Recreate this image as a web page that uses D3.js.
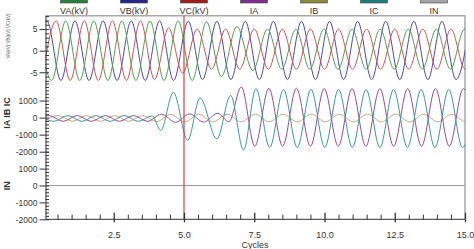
<!DOCTYPE html>
<html>
<head>
<meta charset="utf-8">
<script src="https://cdn.jsdelivr.net/npm/d3@7"></script>
<style>
  body { margin: 0; background: #fff; }
  svg { font-family: "Liberation Sans", Arial, sans-serif; display: block; }
  .axis path, .axis line { stroke: #333; }
  .axis text { fill: #333; }
</style>
</head>
<body>
<svg id="chart" width="474" height="249"></svg>
<script>
// legend
const legendNames = ["VA(kV)", "VB(kV)", "VC(kV)", "IA", "IB", "IC", "IN"];
const legendColors = ["#2b7f3c", "#25258c", "#a41d1d", "#7c2f8c", "#8a8a3c", "#1c7f7c", "#a3a3a3"];

// extrema of each trace (time in cycles, value)
const vaT = [-0.21, 0.29, 0.79, 1.29, 1.79, 2.29, 2.79, 3.29, 3.79, 4.29, 4.79, 5.29, 5.8, 6.33, 6.88, 7.45, 7.97, 8.48, 8.98, 9.48, 9.98, 10.48, 10.98, 11.48, 11.98, 12.48, 12.98, 13.48, 13.98, 14.48, 14.98, 15.48];
const vaV = [6.9, -6.9, 6.9, -6.9, 6.9, -6.9, 6.9, -6.9, 6.9, -6.9, 6.9, -6.9, 6.7, -6.0, 5.6, -4.6, 5.0, -4.3, 5.0, -4.3, 5.0, -4.3, 5.0, -4.3, 5.0, -4.3, 5.0, -4.3, 5.0, -4.3, 5.0, -4.3];

const vbT = [-0.38, 0.12, 0.62, 1.12, 1.62, 2.12, 2.62, 3.12, 3.62, 4.13, 4.63, 5.15, 5.66, 6.17, 6.67, 7.18, 7.68, 8.18, 8.68, 9.18, 9.68, 10.18, 10.68, 11.18, 11.68, 12.18, 12.68, 13.18, 13.68, 14.18, 14.68, 15.18];
const vbV = [-6.9, 6.9, -6.9, 6.9, -6.9, 6.9, -6.9, 6.9, -6.9, 6.9, -6.9, 6.8, -6.7, 6.8, -6.7, 6.8, -6.7, 6.8, -6.7, 6.8, -6.7, 6.8, -6.7, 6.8, -6.7, 6.8, -6.7, 6.8, -6.7, 6.8, -6.7, 6.8];

const vcT = [-0.05, 0.45, 0.95, 1.45, 1.95, 2.45, 2.95, 3.45, 3.95, 4.45, 4.95, 5.47, 5.98, 6.48, 6.98, 7.5, 8.0, 8.5, 9.0, 9.5, 10.0, 10.5, 11.0, 11.5, 12.0, 12.5, 13.0, 13.5, 14.0, 14.5, 15.0, 15.5];
const vcV = [-6.9, 6.9, -6.9, 6.9, -6.9, 6.9, -6.9, 6.9, -6.7, 5.3, -5.2, 5.0, -4.3, 5.0, -4.3, 5.0, -4.3, 5.0, -4.3, 5.0, -4.3, 5.0, -4.3, 5.0, -4.3, 5.0, -4.3, 5.0, -4.3, 5.0, -4.3, 5.0];

const iaT = [-0.3, 0.2, 0.7, 1.2, 1.7, 2.2, 2.7, 3.2, 3.7, 4.2, 4.7, 5.2, 5.7, 6.2, 6.6, 7.04, 7.52, 8.02, 8.51, 9.0, 9.5, 9.99, 10.49, 10.98, 11.47, 11.97, 12.46, 12.96, 13.45, 13.95, 14.44, 14.94, 15.43];
const iaV = [-220, 120, -220, 120, -220, 120, -220, 120, -220, 200, -280, 220, -260, 250, -250, 1800, -1680, 1720, -1680, 1720, -1680, 1700, -1680, 1700, -1680, 1700, -1680, 1700, -1680, 1700, -1680, 1700, -1680];

const ibT = [0.03, 0.53, 1.03, 1.53, 2.03, 2.53, 3.03, 3.53, 4.03, 4.53, 5.03, 5.53, 6.03, 6.53, 7.03, 7.53, 8.03, 8.53, 9.03, 9.53, 10.03, 10.53, 11.03, 11.53, 12.03, 12.53, 13.03, 13.53, 14.03, 14.53, 15.03, 15.53];
const ibV = [-220, 120, -220, 120, -220, 120, -220, 120, -230, 180, -250, 200, -250, 200, -250, 200, -250, 200, -250, 200, -250, 200, -250, 200, -250, 200, -250, 200, -250, 200, -250, 200];

const icT = [-0.13, 0.37, 0.87, 1.37, 1.87, 2.37, 2.87, 3.37, 3.87, 4.17, 4.62, 5.13, 5.57, 6.17, 6.66, 7.12, 7.56, 8.05, 8.54, 9.03, 9.52, 10.01, 10.5, 10.99, 11.48, 11.97, 12.46, 12.95, 13.44, 13.93, 14.42, 14.91, 15.4];
const icV = [120, -220, 120, -220, 120, -220, 120, -220, 100, -750, 1480, -1330, 1150, -1250, 1300, -1900, 1700, -1750, 1650, -1750, 1650, -1750, 1650, -1750, 1650, -1750, 1650, -1750, 1650, -1750, 1650, -1750, 1650];

const inT = [0, 15];
const inV = [0, 0];

// axis ticks
const xMajor = [2.5, 5.0, 7.5, 10.0, 12.5, 15.0];
const vTicks = [-5, 0, 5];
const iTicks = [-2000, -1000, 0, 1000];
const faultCycle = 5.0;

const svg = d3.select("#chart");
const plotL = 45.5, plotR = 465, plotT = 15.7, plotB = 219.3;

const x = d3.scaleLinear().domain([0, 15]).range([43.5, 465]);
const yV = d3.scaleLinear().domain([-7.6, 8.1]).range([83.5, plotT]);
const yI = d3.scaleLinear().domain([-2000, 2000]).range([151.7, 83.5]);
const yN = d3.scaleLinear().domain([-2000, 2000]).range([plotB, 151.7]);

svg.append("defs").append("clipPath").attr("id", "plot")
  .append("rect").attr("x", plotL).attr("y", plotT - 2).attr("width", plotR - plotL).attr("height", plotB - plotT + 2);

// legend
const lx = d3.scalePoint().domain(legendNames).range([74, 434]);
const leg = svg.append("g").selectAll("g").data(legendNames).enter().append("g")
  .attr("transform", d => `translate(${lx(d)},0)`);
leg.append("rect").attr("x", -13.5).attr("y", -8).attr("width", 27).attr("height", 11)
  .attr("fill", (d, i) => legendColors[i]).attr("stroke", "#444").attr("stroke-width", 0.6);
leg.append("text").attr("y", 14).attr("text-anchor", "middle")
  .attr("font-size", 9).attr("fill", "#333").text(d => d);

// frame
svg.append("path").attr("d", `M${plotL},${plotT}H${plotR}V${plotB}`)
  .attr("fill", "none").attr("stroke", "#a8a8a8").attr("stroke-width", 1.5);

// IN zero line
svg.append("line").attr("x1", plotL).attr("x2", plotR).attr("y1", yN(0)).attr("y2", yN(0))
  .attr("stroke", "#b5b5b5").attr("stroke-width", 1);

// traces
const plot = svg.append("g").attr("clip-path", "url(#plot)");
function trace(ts, vs, y, color) {
  const line = d3.line().x(d => x(d[0])).y(d => y(d[1])).curve(d3.curveMonotoneX);
  plot.append("path").datum(d3.zip(ts, vs)).attr("d", line)
    .attr("fill", "none").attr("stroke", color).attr("stroke-width", 1);
}
trace(ibT, ibV, yI, "#c9a77f");
trace(iaT, iaV, yI, "#9a4a9c");
trace(icT, icV, yI, "#3a9a96");
trace(vbT, vbV, yV, "#4848b4");
trace(vaT, vaV, yV, "#4fa04f");
trace(vcT, vcV, yV, "#d85050");
trace(inT, inV, yN, "#9a9a9a");

// fault marker
svg.append("line").attr("x1", x(faultCycle)).attr("x2", x(faultCycle)).attr("y1", plotT).attr("y2", plotB)
  .attr("stroke", "#e23a3a").attr("stroke-width", 1.2);

// y axes
function yAxis(scale, major, minor) {
  svg.append("g").attr("class", "axis").attr("transform", `translate(${plotL},0)`)
    .call(d3.axisLeft(scale).tickValues(major).tickSizeInner(6).tickSizeOuter(0).tickPadding(2).tickFormat(d => String(d)))
    .call(s => s.selectAll("text").attr("font-size", 8.5));
  svg.append("g").attr("class", "axis").attr("transform", `translate(${plotL},0)`)
    .call(d3.axisRight(scale).tickValues(minor).tickSize(3.5).tickFormat(""))
    .call(s => s.select(".domain").remove());
}
yAxis(yV, vTicks, d3.range(-7, 9, 1));
yAxis(yI, iTicks, d3.range(-2000, 2001, 200));
yAxis(yN, iTicks, d3.range(-2000, 2001, 200));

// x axis
const xa = svg.append("g").attr("class", "axis").attr("transform", `translate(0,${plotB})`);
xa.call(d3.axisBottom(x).tickValues(xMajor).tickSizeInner(3).tickSizeOuter(0).tickPadding(9).tickFormat(d3.format(".1f")))
  .call(s => s.selectAll("text").attr("font-size", 9))
  .call(s => s.select(".domain").attr("d", `M${plotL},0H${plotR}`));
svg.append("g").attr("class", "axis").attr("transform", `translate(0,${plotB})`)
  .call(d3.axisTop(x).tickValues(d3.range(0.5, 15.01, 0.5)).tickSize(4.7).tickFormat(""))
  .call(s => s.select(".domain").remove())
  .call(s => s.selectAll(".tick line").filter(d => xMajor.includes(d)).attr("y2", -6.5).attr("stroke-width", 1.3));
xa.selectAll(".tick line").attr("stroke-width", 1.3);

svg.append("text").attr("x", 255).attr("y", 247.5).attr("text-anchor", "middle")
  .attr("font-size", 9).attr("fill", "#333").text("Cycles");

// y titles
function yTitle(label, cy, size, weight, color) {
  svg.append("text").attr("transform", `translate(10,${cy}) rotate(-90)`).attr("text-anchor", "middle")
    .attr("font-size", size).attr("font-weight", weight).attr("fill", color).text(label);
}
yTitle("VA(kV) VB(kV) VC(kV)", 36, 4.5, "normal", "#666");
yTitle("IA IB IC", 113, 9, "bold", "#333");
yTitle("IN", 185.7, 9, "bold", "#333");
</script>
</body>
</html>
